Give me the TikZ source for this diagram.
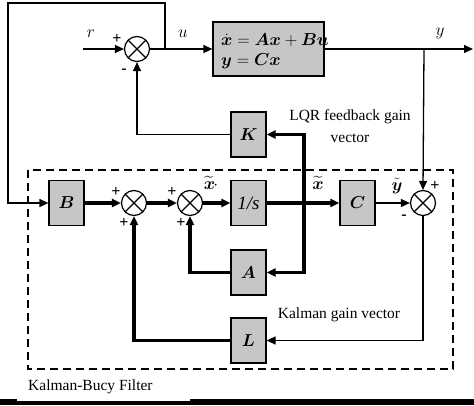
\documentclass[tikz,border=0pt]{standalone}
\usepackage{amsmath,amssymb}
\usepackage{fontspec}
\setmainfont{Liberation Serif}
\usetikzlibrary{arrows.meta}
\begin{document}
\begin{tikzpicture}[x=1pt,y=-1pt,
  blk/.style={draw, fill=gray!45, line width=1.2pt, minimum width=35pt, minimum height=45pt, inner sep=0pt, font=\fontsize{19}{22}\selectfont},
  sumj/.style={draw, circle, fill=white, line width=1.2pt, minimum size=25pt, inner sep=0pt,
    path picture={\draw[line width=1.2pt] (path picture bounding box.north west)--(path picture bounding box.south east)
      (path picture bounding box.north east)--(path picture bounding box.south west);}},
  sig/.style={line width=1.3pt},
  bus/.style={line width=3.8pt},
  arr/.style={-{Triangle[length=9pt,width=8pt]}},
  lbl/.style={font=\fontsize{17}{20}\selectfont, inner sep=0pt},
  sgn/.style={font=\fontsize{16}{16}\selectfont\bfseries, inner sep=0pt},
  txt/.style={font=\fontsize{15.5}{22}\selectfont, inner sep=0pt, align=center}]
\useasboundingbox (0,0) rectangle (474,405);
% bottom band
\fill[black] (0,399) rectangle (474,405);
\fill[white] (17,375) rectangle (190,401);
% dashed filter box
\draw[line width=1.5pt, dash pattern=on 8pt off 5pt] (28,170) rectangle (453,369);
% nodes
\node[sumj] (s1) at (137,49) {};
\node[blk, minimum width=111pt, minimum height=54pt] (plant) at (268.5,49) {};
\node[anchor=west, inner sep=0pt, font=\fontsize{16.5}{19}\selectfont] (eq1) at (221,40) {$\dot{\boldsymbol x}=\boldsymbol{A}\boldsymbol{x}+\boldsymbol{B}\boldsymbol{u}$};
\node[anchor=west, inner sep=0pt, font=\fontsize{16.5}{19}\selectfont] (eq2) at (221,61) {$\boldsymbol{y}=\boldsymbol{C}\boldsymbol{x}$};
\node[blk] (K) at (248.5,134.5) {$\boldsymbol{K}$};
\node[blk] (B) at (66.5,203) {$\boldsymbol{B}$};
\node[sumj] (s2) at (134,203) {};
\node[sumj] (s3) at (190,203) {};
\node[blk] (I) at (248.5,203) {\textit{1/s}};
\node[blk] (C) at (357.5,203) {$\boldsymbol{C}$};
\node[sumj] (s4) at (423,203) {};
\node[blk] (A) at (248.5,272.5) {$\boldsymbol{A}$};
\node[blk] (L) at (248.5,340.5) {$\boldsymbol{L}$};
% coordinates
\coordinate (rin) at (83,49);
\coordinate (ut) at (165,49);
\coordinate (tr) at (165,3);
\coordinate (tl) at (8,3);
\coordinate (bl) at (8,203);
\coordinate (yt) at (424,49);
\coordinate (yout) at (473,49);
\coordinate (xt) at (304,203);
\coordinate (xk) at (304,134.5);
\coordinate (xa) at (304,272.5);
\coordinate (lr) at (423,340.5);
% thin signals
\draw[sig,arr] (rin) -- (s1.west);
\draw[sig,arr] (s1.east) -- (plant.west);
\draw[sig,arr] (ut) -- (tr) -- (tl) -- (bl) -- (B.west);
\draw[sig,arr] (plant.east) -- (yout);
\draw[sig,arr] (yt) -- (s4.north);
\draw[sig,arr] (K.west) -| (s1.south);
\draw[sig,arr] (C.east) -- (s4.west);
\draw[sig,arr] (s4.south) -- (lr) -- (L.east);
% thick buses
\draw[bus,arr] (B.east) -- (s2.west);
\draw[bus,arr] (s2.east) -- (s3.west);
\draw[bus,arr] (s3.east) -- (I.west);
\draw[bus,arr] (I.east) -- (C.west);
\draw[bus,arr,line join=miter] (xt) -- (xk) -- (K.east);
\draw[bus,arr,line join=miter] (xt) -- (xa) -- (A.east);
\draw[bus,arr,line join=miter] (A.west) -| (s3.south);
\draw[bus,arr,line join=miter] (L.west) -| (s2.south);
% labels
\node[lbl] at (91,34) {$r$};
\node[lbl] at (183,34) {$u$};
\node[lbl] at (440,33) {$y$};
\node[sgn] at (117,39) {+};
\node[sgn] at (124,71) {-};
\node[sgn] at (116,192) {+};
\node[sgn] at (124,223) {+};
\node[sgn] at (172,192) {+};
\node[sgn] at (181,223) {+};
\node[sgn] at (435,186) {+};
\node[sgn] at (404,217) {-};
\node[lbl] at (211,183) {$\widetilde{\boldsymbol x}\mkern-2mu\cdot$};
\node[lbl] at (318,183) {$\widetilde{\boldsymbol x}$};
\node[lbl] at (397,186) {$\tilde{\boldsymbol y}$};
\node[txt] at (350,126) {LQR feedback gain\\vector};
\node[txt] at (339,315) {Kalman gain vector};
\node[txt, anchor=west] at (28,387) {Kalman-Bucy Filter};
\end{tikzpicture}
\end{document}
